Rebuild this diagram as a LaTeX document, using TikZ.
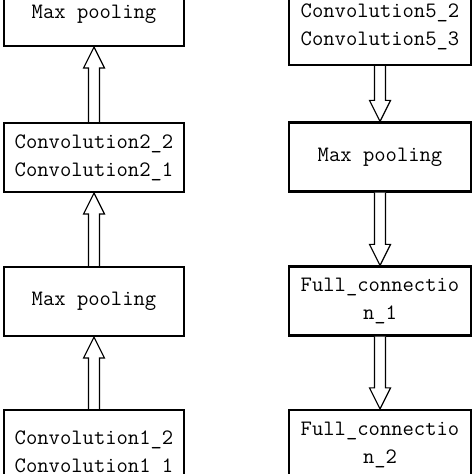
\documentclass[tikz,border=0pt]{standalone}
\usetikzlibrary{calc}

\tikzset{
  layer/.style={draw, line width=2.2bp, align=center, inner sep=0pt,
    minimum height=69bp, font=\ttfamily\fontsize{22bp}{28bp}\selectfont},
  hollow/.style={draw, line width=1.2bp, fill=white},
}

\def\sw{5.5bp}  % half shaft width
\def\hw{10.5bp} % half head width
\def\hl{21bp}   % head length

% block arrow from #1 (lower box) up to #2 (upper box)
\newcommand{\arrowup}[2]{%
  \draw[hollow] let \p1=(#1.north), \p2=(#2.south) in
    (\x1-\sw,\y1) -- (\x1-\sw,\y2-\hl) -- (\x1-\hw,\y2-\hl) -- (\x1,\y2)
    -- (\x1+\hw,\y2-\hl) -- (\x1+\sw,\y2-\hl) -- (\x1+\sw,\y1);}

% block arrow from #1 (upper box) down to #2 (lower box)
\newcommand{\arrowdown}[2]{%
  \draw[hollow] let \p1=(#1.south), \p2=(#2.north) in
    (\x1-\sw,\y1) -- (\x1-\sw,\y2+\hl) -- (\x1-\hw,\y2+\hl) -- (\x1,\y2)
    -- (\x1+\hw,\y2+\hl) -- (\x1+\sw,\y2+\hl) -- (\x1+\sw,\y1);}

\begin{document}
\begin{tikzpicture}[x=1bp, y=1bp]
  \useasboundingbox (0,0) rectangle (474,474);

  % left column (bottom to top)
  \node[layer, minimum width=180bp, minimum height=88bp] (conv1) at (94,20)
    {Convolution1\_2\\Convolution1\_1};
  \node[layer, minimum width=180bp] (poolB) at (94,172.5) {Max pooling};
  \node[layer, minimum width=180bp] (conv2) at (94,316.5)
    {Convolution2\_2\\Convolution2\_1};
  \node[layer, minimum width=180bp, minimum height=64bp] (poolA) at (94,460)
    {Max pooling};

  % right column (top to bottom)
  \node[layer, minimum width=182bp, minimum height=77bp] (conv5) at (380,447.5)
    {Convolution5\_2\\Convolution5\_3};
  \node[layer, minimum width=182bp] (poolC) at (380,317) {Max pooling};
  \node[layer, minimum width=182bp] (fc1) at (380,173) {Full\_connectio\\n\_1};
  \node[layer, minimum width=182bp] (fc2) at (380,29.5) {Full\_connectio\\n\_2};

  % arrows
  \arrowup{conv1}{poolB}
  \arrowup{poolB}{conv2}
  \arrowup{conv2}{poolA}
  \arrowdown{conv5}{poolC}
  \arrowdown{poolC}{fc1}
  \arrowdown{fc1}{fc2}
\end{tikzpicture}
\end{document}
